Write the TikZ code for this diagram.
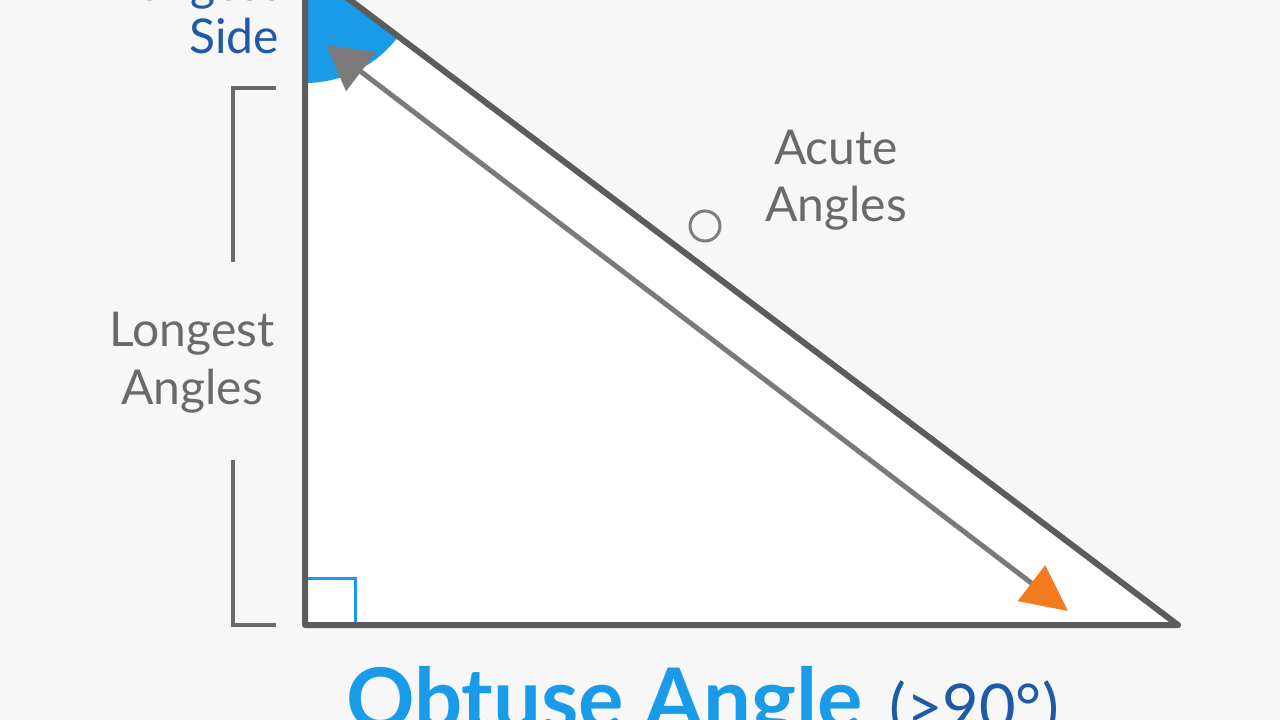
\documentclass[tikz,border=0pt]{standalone}
\usepackage{fontspec}
\setmainfont{Lato}
\usetikzlibrary{positioning, arrows.meta}
\definecolor{fondo}{HTML}{F7F7F7}
\definecolor{linea}{HTML}{5C5C5C}
\definecolor{flecha}{HTML}{7A7A7A}
\definecolor{azul}{HTML}{1A9BE8}
\definecolor{azuloscuro}{HTML}{1F5AA6}
\definecolor{naranja}{HTML}{F47B20}
\definecolor{texto}{HTML}{6A6A6A}

\begin{document}
\begin{tikzpicture}[x=1pt, y=-1pt,
    lado/.style={line width=6pt, draw=linea, line join=round, line cap=round},
    corchete/.style={line width=4pt, draw=texto},
    etiqueta/.style={text=texto, font=\fontsize{48}{58}\selectfont, inner sep=0pt, anchor=base}]
        % Fondo y recorte
        \fill[fondo] (0,0) rectangle (1280,720);
        \clip (0,0) rectangle (1280,720);

        % Vertices del triangulo
        \coordinate (A) at (305,-34);
        \coordinate (B) at (305,625);
        \coordinate (C) at (1178,625);

        % Triangulo relleno de blanco
        \fill[white] (A) -- (B) -- (C) -- cycle;

        % Angulo superior (sector azul)
        \begin{scope}
            \clip (A) -- (B) -- (C) -- cycle;
            \fill[azul] (A) circle (117);
        \end{scope}

        % Angulo recto
        \draw[azul, line width=3pt] (307,578) -- (355,578) -- (355,624);

        % Lados del triangulo
        \draw[lado] (A) -- (B) -- (C) -- cycle;

        % Flecha paralela a la hipotenusa
        \coordinate (P) at (326,45);
        \coordinate (Q) at (1068,611);
        \draw[flecha, line width=5pt, {Triangle[length=44pt, width=48pt]}-{Triangle[length=46pt, width=44pt, color=naranja]}] (P) -- (Q);

        % Circulo pequeno
        \draw[linea!80, line width=3pt] (705,226) circle (15);

        % Corchetes de la izquierda
        \draw[corchete] (276,88) -- (233,88) -- (233,262);
        \draw[corchete] (233,460) -- (233,625) -- (276,625);

        % Etiquetas
        \node[etiqueta, text=azuloscuro, anchor=base east] (lado1) at (279,0) {Longest};
        \node[etiqueta, text=azuloscuro, anchor=base east] (lado2) at (279,53) {Side};
        \node[etiqueta] (largo1) at (192,346) {Longest};
        \node[etiqueta] (largo2) at (192,404) {Angles};
        \node[etiqueta] (agudo1) at (836,164) {Acute};
        \node[etiqueta] (agudo2) at (836,221) {Angles};

        % Titulo inferior
        \node[inner sep=0pt, anchor=base west, text=azul, font=\fontsize{85}{90}\selectfont\bfseries] (obtuso) at (346,729) {Obtuse Angle};
        \node[inner sep=0pt, text=azuloscuro, font=\fontsize{63}{70}\selectfont, right=26pt of obtuso.base east, anchor=base west] (grados) {(>90°)};
    \end{tikzpicture}
\end{document}
